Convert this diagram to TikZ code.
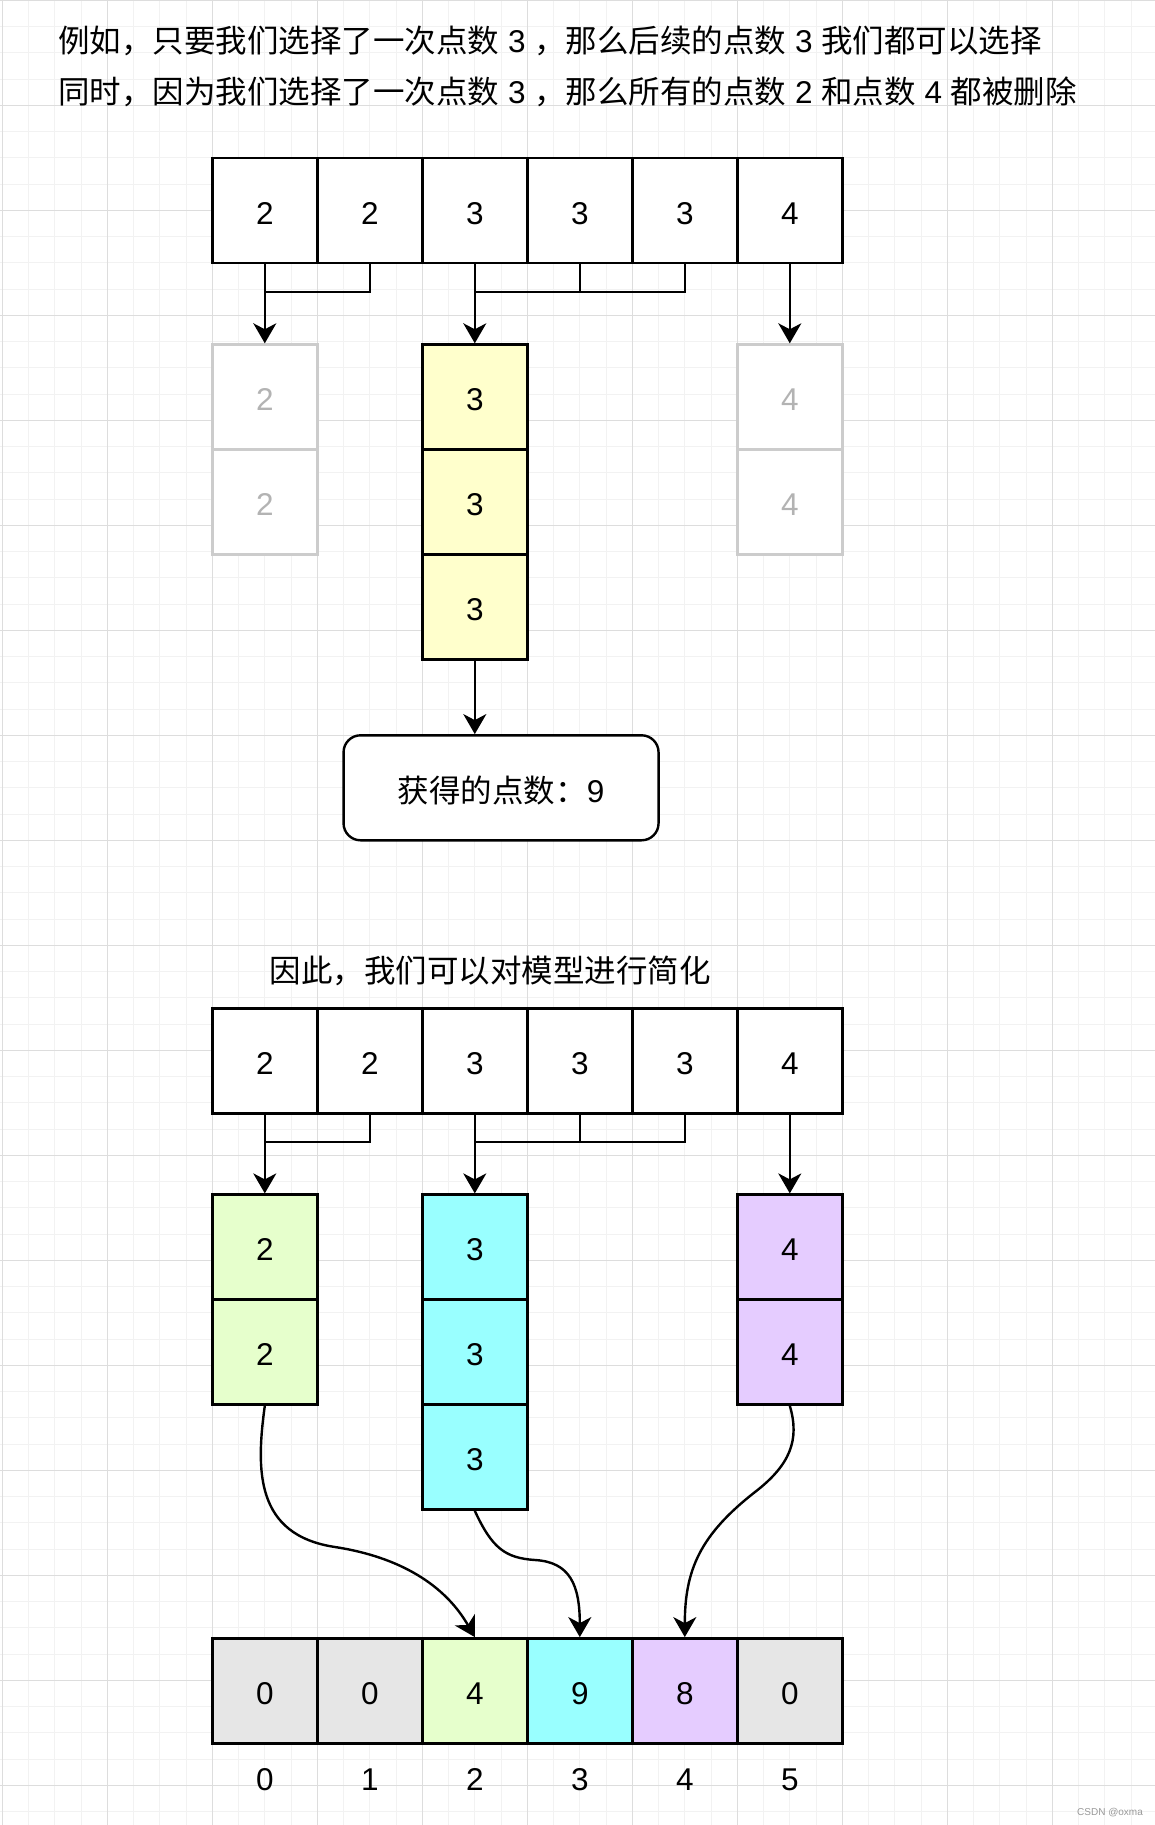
\documentclass[tikz,border=0pt]{standalone}
\usepackage{fontspec}
\setmainfont{Liberation Sans}
\newfontfamily\cjk{Noto Sans CJK SC}
\usetikzlibrary{arrows.meta}
\definecolor{gridminor}{HTML}{F2F2F2}
\definecolor{gridmajor}{HTML}{DDDDDD}
\definecolor{fadeline}{HTML}{CCCCCC}
\definecolor{fadetext}{HTML}{B3B3B3}
\definecolor{yel}{HTML}{FFFFCC}
\definecolor{grn}{HTML}{E6FFCC}
\definecolor{cyn}{HTML}{99FFFF}
\definecolor{prp}{HTML}{E5CCFF}
\definecolor{gry}{HTML}{E6E6E6}
\tikzset{
  base/.style={font=\fontsize{31.5}{36}\selectfont},
  cell/.style={base, draw, line width=2.4pt, minimum width=105pt, minimum height=105pt, inner sep=0pt, fill=white, text height=27.5pt, text depth=0pt},
  faded/.style={cell, draw=fadeline, text=fadetext},
  conn/.style={line width=2.4pt},
  arr/.style={conn, -{Stealth[length=20pt,width=23pt,inset=6pt]}},
  lbl/.style={base, inner sep=0pt},
}
\begin{document}
\begin{tikzpicture}[x=1pt,y=-1pt]
\useasboundingbox (0,0) rectangle (1155,1825);
\fill[white] (0,0) rectangle (1155,1825);
% grid
\foreach \k in {0,...,43} \draw[gridminor, line width=1pt] (2.3+\k*26.25,0) -- (2.3+\k*26.25,1825);
\foreach \k in {0,...,69} \draw[gridminor, line width=1pt] (0,0.3+\k*26.25) -- (1155,0.3+\k*26.25);
\foreach \k in {0,...,10} \draw[gridmajor, line width=1pt] (2.3+\k*105,0) -- (2.3+\k*105,1825);
\foreach \k in {0,...,17} \draw[gridmajor, line width=1pt] (0,0.3+\k*105) -- (1155,0.3+\k*105);

% header
\node[lbl, anchor=west] (hd1) at (58.2,40.8) {{\cjk 例如，只要我们选择了一次点数} 3 {\cjk ，那么后续的点数} 3 {\cjk 我们都可以选择}};
\node[lbl, anchor=west] (hd2) at (58.2,91.5) {{\cjk 同时，因为我们选择了一次点数} 3 {\cjk ，那么所有的点数} 2 {\cjk 和点数} 4 {\cjk 都被删除}};

% top row 1
\foreach \v [count=\i from 0] in {2,2,3,3,3,4}
  \node[cell] (t\i) at (264.8+105*\i,210.3) {\v};
% faded / yellow
\node[faded] (f0) at (264.8,397) {2};
\node[faded] (f1) at (264.8,502) {2};
\node[faded] (h0) at (789.8,397) {4};
\node[faded] (h1) at (789.8,502) {4};
\node[cell, fill=yel] (y0) at (474.8,397) {3};
\node[cell, fill=yel] (y1) at (474.8,502) {3};
\node[cell, fill=yel] (y2) at (474.8,607) {3};
\node[base, draw, line width=2.4pt, rounded corners=17pt, minimum width=315pt, minimum height=105pt, inner sep=0pt, fill=white, text height=29pt, text depth=0pt] (res) at (501.05,787.8) {{\cjk 获得的点数：}9};

\coordinate (ja) at (264.8,291.7);
\coordinate (jb) at (474.8,291.7);
\draw[conn] (t1.south) |- (ja);
\draw[conn] (t3.south) |- (jb);
\draw[conn] (t4.south) |- (jb);
\draw[arr] (t0.south) -- (f0.north);
\draw[arr] (t2.south) -- (y0.north);
\draw[arr] (t5.south) -- (h0.north);
\draw[arr] (y2.south) -- (y2.south |- res.north);

% second part
\node[lbl, anchor=west] (hd3) at (269.4,971) {\cjk 因此，我们可以对模型进行简化};
\foreach \v [count=\i from 0] in {2,2,3,3,3,4}
  \node[cell] (s\i) at (264.8+105*\i,1060.8) {\v};
\node[cell, fill=grn] (g0) at (264.8,1247.1) {2};
\node[cell, fill=grn] (g1) at (264.8,1352.1) {2};
\node[cell, fill=cyn] (c0) at (474.8,1247.1) {3};
\node[cell, fill=cyn] (c1) at (474.8,1352.1) {3};
\node[cell, fill=cyn] (c2) at (474.8,1457.1) {3};
\node[cell, fill=prp] (p0) at (789.8,1247.1) {4};
\node[cell, fill=prp] (p1) at (789.8,1352.1) {4};

\coordinate (jc) at (264.8,1142.2);
\coordinate (jd) at (474.8,1142.2);
\draw[conn] (s1.south) |- (jc);
\draw[conn] (s3.south) |- (jd);
\draw[conn] (s4.south) |- (jd);
\draw[arr] (s0.south) -- (g0.north);
\draw[arr] (s2.south) -- (c0.north);
\draw[arr] (s5.south) -- (p0.north);

% bottom row
\foreach \v/\c [count=\i from 0] in {0/gry,0/gry,4/grn,9/cyn,8/prp,0/gry}
  \node[cell, fill=\c] (b\i) at (264.8+105*\i,1690.8) {\v};
\foreach \i in {0,...,5}
  \node[lbl] (n\i) at (264.8+105*\i,1779.5) {\i};

% curved connectors
\draw[arr] (g1.south) .. controls (256,1470) and (255,1535) .. (335,1547)
  .. controls (400,1557) and (445,1585) .. (b2.north);
\draw[arr] (c2.south) .. controls (492,1548) and (505,1558) .. (535,1560)
  .. controls (570,1562) and (579.8,1585) .. (b3.north);
\draw[arr] (p1.south) .. controls (800,1440) and (790,1465) .. (755,1492)
  .. controls (700,1535) and (684.8,1570) .. (b4.north);

% watermark
\node[font=\fontsize{10}{12}\selectfont, text=black!40, inner sep=0pt] (wm) at (1110,1813) {CSDN @oxma};
\end{tikzpicture}
\end{document}
